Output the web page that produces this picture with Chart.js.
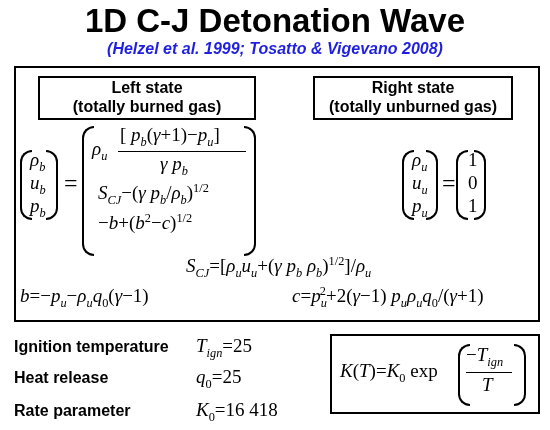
<!DOCTYPE html><html><head><meta charset="utf-8">
<script src="https://cdn.jsdelivr.net/npm/chart.js@4"></script>
<style>
body{margin:0;width:550px;height:430px;background:#fff;position:relative;overflow:hidden;font-family:"Liberation Sans",Arial,sans-serif}
.a{position:absolute;white-space:nowrap}
.m{font-family:"Liberation Serif","Times New Roman",serif;font-style:italic;font-size:19px}
.u{font-style:normal}
.pl,.pr{position:absolute;border:2px solid #000;width:10px}
.pl{border-right:none;border-radius:12px 0 0 12px}
.pr{border-left:none;border-radius:0 12px 12px 0}
sub,sup{font-size:65%;line-height:0}
.b{font-weight:bold;font-size:16px}
canvas{position:absolute;left:0;top:0}
</style></head><body>
<canvas id="c" width="550" height="430"></canvas>
<div class="a" style="left:0;width:550px;text-align:center;top:2px;font-size:33px;font-weight:bold">1D C-J Detonation Wave</div>
<div class="a" style="left:0;width:550px;text-align:center;top:40px;font-size:16px;font-weight:bold;font-style:italic;color:#1f1fe0">(Helzel et al. 1999; Tosatto &amp; Vigevano 2008)</div>
<div class="a" style="left:14px;top:66px;width:522px;height:252px;border:2px solid #000"></div>
<div class="a b" style="left:38px;top:76px;width:214px;height:40px;border:2px solid #000;text-align:center;line-height:19px">Left state<br>(totally burned gas)</div>
<div class="a b" style="left:313px;top:76px;width:196px;height:40px;border:2px solid #000;text-align:center;line-height:19px">Right state<br>(totally unburned gas)</div>
<div class="pl" style="left:20px;top:150px;height:66px"></div>
<div class="a m" style="left:30px;top:148px;line-height:23px">ρ<sub>b</sub><br>u<sub>b</sub><br>p<sub>b</sub></div>
<div class="pr" style="left:46px;top:150px;height:66px"></div>
<div class="a m u" style="left:64px;top:170px;font-size:24px">=</div>
<div class="pl" style="left:82px;top:126px;height:126px"></div>
<div class="pr" style="left:244px;top:126px;height:126px"></div>
<div class="a m" style="left:92px;top:138px">ρ<sub>u</sub></div>
<div class="a m" style="left:120px;top:124px"><span class="u">[</span> p<sub>b</sub><span class="u">(</span>γ<span class="u">+1)−</span>p<sub>u</sub><span class="u">]</span></div>
<div class="a" style="left:118px;top:151px;width:128px;border-top:1.5px solid #000"></div>
<div class="a m" style="left:160px;top:153px">γ p<sub>b</sub></div>
<div class="a m" style="left:98px;top:182px">S<sub>CJ</sub><span class="u">−(</span>γ p<sub>b</sub><span class="u">/</span>ρ<sub>b</sub><span class="u">)</span><sup class="u">1/2</sup></div>
<div class="a m" style="left:98px;top:212px"><span class="u">−</span>b<span class="u">+(</span>b<sup class="u">2</sup><span class="u">−</span>c<span class="u">)</span><sup class="u">1/2</sup></div>
<div class="pl" style="left:402px;top:150px;height:66px"></div>
<div class="a m" style="left:412px;top:148px;line-height:23px">ρ<sub>u</sub><br>u<sub>u</sub><br>p<sub>u</sub></div>
<div class="pr" style="left:426px;top:150px;height:66px"></div>
<div class="a m u" style="left:442px;top:170px;font-size:24px">=</div>
<div class="pl" style="left:456px;top:150px;height:66px"></div>
<div class="a m u" style="left:468px;top:148px;line-height:23px">1<br>0<br>1</div>
<div class="pr" style="left:474px;top:150px;height:66px"></div>
<div class="a m" style="left:186px;top:255px">S<sub>CJ</sub><span class="u">=[</span>ρ<sub>u</sub>u<sub>u</sub><span class="u">+(</span>γ p<sub>b</sub> ρ<sub>b</sub><span class="u">)</span><sup class="u">1/2</sup><span class="u">]/</span>ρ<sub>u</sub></div>
<div class="a m" style="left:20px;top:285px">b<span class="u">=−</span>p<sub>u</sub><span class="u">−</span>ρ<sub>u</sub>q<sub class="u">0</sub><span class="u">(</span>γ<span class="u">−1)</span></div>
<div class="a m" style="left:292px;top:285px">c<span class="u">=</span>p<sub>u</sub><sup class="u" style="margin-left:-7px">2</sup><span class="u">+2(</span>γ<span class="u">−1)</span> p<sub>u</sub>ρ<sub>u</sub>q<sub class="u">0</sub><span class="u">/(</span>γ<span class="u">+1)</span></div>
<div class="a b" style="left:14px;top:338px">Ignition temperature</div>
<div class="a b" style="left:14px;top:369px">Heat release</div>
<div class="a b" style="left:14px;top:402px">Rate parameter</div>
<div class="a m" style="left:196px;top:335px">T<sub>ign</sub><span class="u">=25</span></div>
<div class="a m" style="left:196px;top:366px">q<sub class="u">0</sub><span class="u">=25</span></div>
<div class="a m" style="left:196px;top:399px">K<sub class="u">0</sub><span class="u">=16 418</span></div>
<div class="a" style="left:330px;top:334px;width:206px;height:76px;border:2px solid #000"></div>
<div class="a m" style="left:340px;top:360px">K<span class="u">(</span>T<span class="u">)=</span>K<sub class="u">0</sub><span class="u"> exp</span></div>
<div class="pl" style="left:458px;top:344px;height:58px"></div>
<div class="pr" style="left:514px;top:344px;height:58px"></div>
<div class="a m" style="left:466px;top:344px"><span class="u">−</span>T<sub>ign</sub></div>
<div class="a" style="left:466px;top:372px;width:46px;border-top:1.5px solid #000"></div>
<div class="a m" style="left:482px;top:374px">T</div>
<script>
const categories=[];const values=[];
new Chart(document.getElementById('c'),{type:'scatter',data:{labels:categories,datasets:[{data:values}]},
options:{responsive:false,animation:false,plugins:{legend:{display:false},tooltip:{enabled:false}},scales:{x:{display:false},y:{display:false}}}});
</script>
</body></html>
